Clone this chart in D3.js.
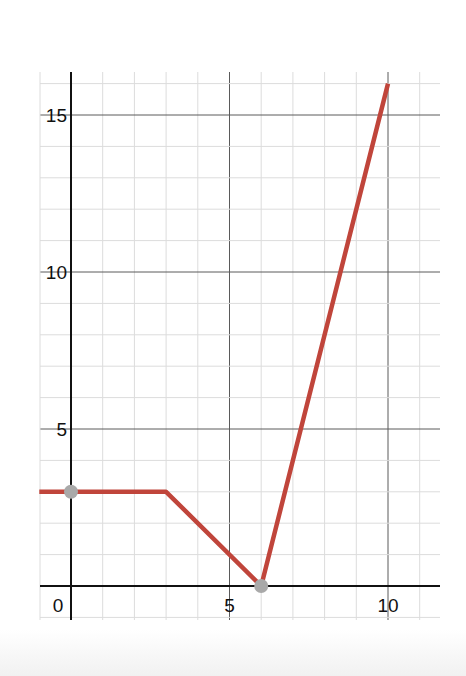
<!DOCTYPE html>
<html><head><meta charset="utf-8">
<script src="https://cdn.jsdelivr.net/npm/d3@7/dist/d3.min.js"></script>
<style>body{margin:0;background:#fff}svg{display:block}</style>
</head><body>
<script>
const xs = [-1, 3, 6, 10];
const ys = [3, 3, 0, 16];
const dots = [[0, 3], [6, 0]];
const xTicks = [0, 5, 10];
const yTicks = [5, 10, 15];

const svg = d3.select("body").append("svg").attr("width", 466).attr("height", 676);

// faint footer band
const grad = svg.append("defs").append("linearGradient").attr("id", "foot").attr("x1", 0).attr("x2", 0).attr("y1", 0).attr("y2", 1);
grad.append("stop").attr("offset", 0).attr("stop-color", "#fff");
grad.append("stop").attr("offset", 1).attr("stop-color", "#f1f1f1");
svg.append("rect").attr("x", 0).attr("y", 630).attr("width", 466).attr("height", 46).attr("fill", "url(#foot)");

const x = d3.scaleLinear().domain([0, 10]).range([71, 388]);
const y = d3.scaleLinear().domain([0, 15]).range([586, 115]);
const L = 40, R = 440, T = 72, B = 620;

const g = svg.append("g");
// grid, heavier every 5
g.selectAll(".vx").data(d3.range(0, 12)).join("line")
  .attr("x1", d => x(d)).attr("x2", d => x(d)).attr("y1", T).attr("y2", B)
  .attr("stroke", d => d % 5 === 0 ? "#5a5a5a" : "#dcdcdc").attr("stroke-width", 1);
g.selectAll(".hy").data(d3.range(-1, 17)).join("line")
  .attr("y1", d => y(d)).attr("y2", d => y(d)).attr("x1", L).attr("x2", R)
  .attr("stroke", d => d % 5 === 0 ? "#5a5a5a" : "#dcdcdc").attr("stroke-width", 1);
g.append("line").attr("x1", L).attr("x2", L).attr("y1", T).attr("y2", B).attr("stroke", "#dcdcdc");
// axes
g.append("line").attr("x1", L).attr("x2", R).attr("y1", y(0)).attr("y2", y(0)).attr("stroke", "#111").attr("stroke-width", 2);
g.append("line").attr("x1", x(0)).attr("x2", x(0)).attr("y1", T).attr("y2", B).attr("stroke", "#111").attr("stroke-width", 2);

// labels
g.selectAll(".xl").data(xTicks).join("text")
  .attr("x", d => d === 0 ? x(0) - 13 : x(d)).attr("y", y(0) + 26)
  .attr("text-anchor", "middle").attr("font-family", "Liberation Sans, Arial").attr("font-size", 19).attr("fill", "#111")
  .text(d => d);
g.selectAll(".yl").data(yTicks).join("text")
  .attr("x", x(0) - 4).attr("y", d => y(d) + 7)
  .attr("text-anchor", "end").attr("font-family", "Liberation Sans, Arial").attr("font-size", 19).attr("fill", "#111")
  .text(d => d);

// line
const pts = xs.map((v, i) => [v, ys[i]]);
g.append("path").datum(pts)
  .attr("d", d3.line().x(d => x(d[0])).y(d => y(d[1])))
  .attr("fill", "none").attr("stroke", "#c0453b").attr("stroke-width", 4.5).attr("stroke-linejoin", "round");
g.selectAll(".dot").data(dots).join("circle")
  .attr("cx", d => x(d[0])).attr("cy", d => y(d[1])).attr("r", 7).attr("fill", "#a9a9a9");
</script>
</body></html>
